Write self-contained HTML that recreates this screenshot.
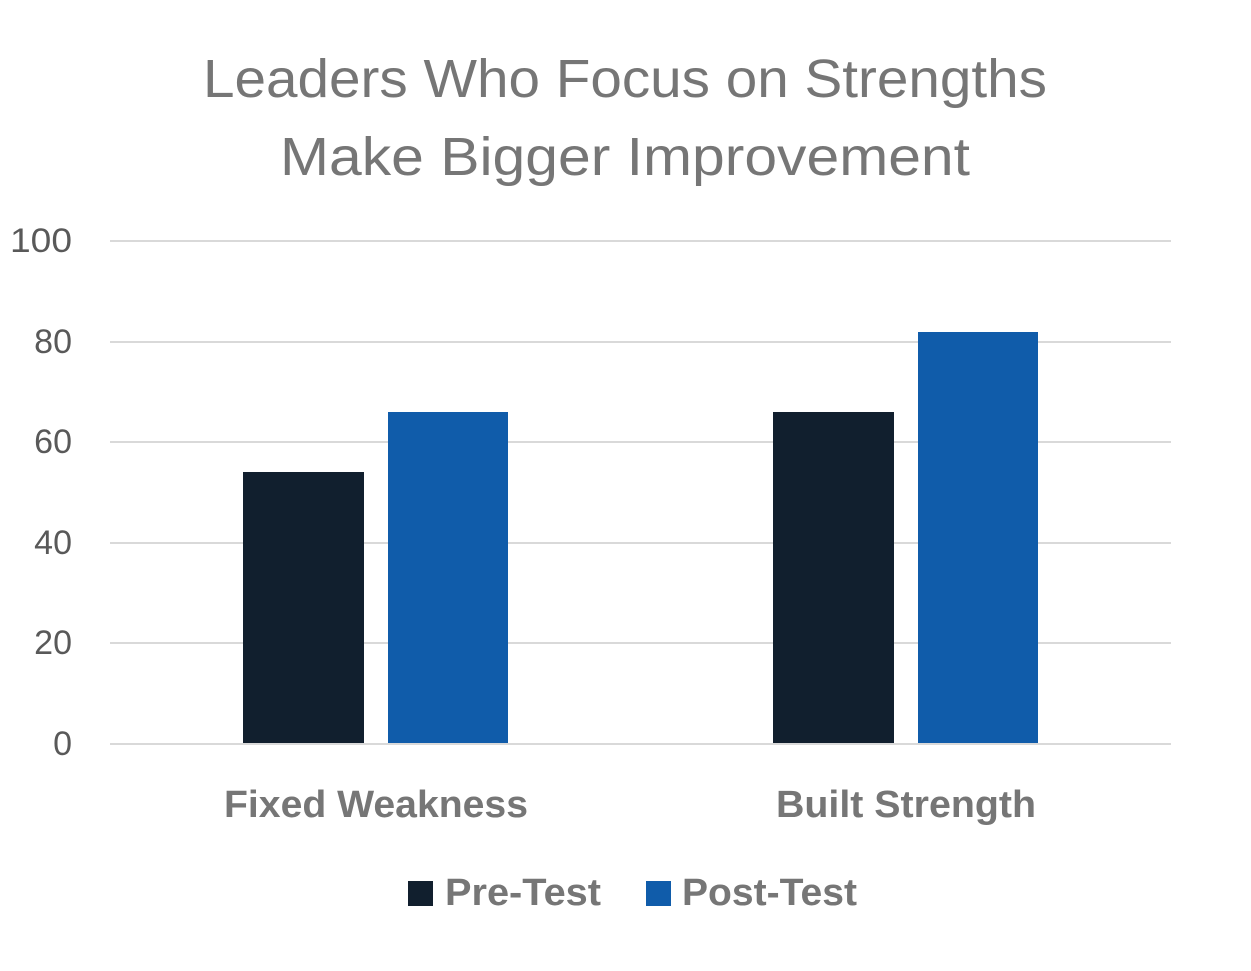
<!DOCTYPE html>
<html><head><meta charset="utf-8"><style>body{margin:0;background:#fff}svg{display:block}</style></head>
<body>
<svg width="1251" height="971" viewBox="0 0 1251 971" xmlns="http://www.w3.org/2000/svg" font-family="Liberation Sans, sans-serif">
<rect width="1251" height="971" fill="#fff"/>
<g fill="#767676" font-size="54">
<text x="203" y="97" textLength="844" lengthAdjust="spacingAndGlyphs">Leaders Who Focus on Strengths</text>
<text x="280" y="175" textLength="690" lengthAdjust="spacingAndGlyphs">Make Bigger Improvement</text>
</g>
<g stroke="#d9d9d9" stroke-width="2">
<line x1="110" x2="1171" y1="241" y2="241"/>
<line x1="110" x2="1171" y1="342" y2="342"/>
<line x1="110" x2="1171" y1="442" y2="442"/>
<line x1="110" x2="1171" y1="543" y2="543"/>
<line x1="110" x2="1171" y1="643" y2="643"/>
<line x1="110" x2="1171" y1="744" y2="744"/>
</g>
<g fill="#595959" font-size="34" text-anchor="end">
<text x="72" y="252" textLength="62" lengthAdjust="spacingAndGlyphs">100</text>
<text x="72" y="353">80</text>
<text x="72" y="453">60</text>
<text x="72" y="554">40</text>
<text x="72" y="654">20</text>
<text x="72" y="755">0</text>
</g>
<rect x="243" y="472" width="121" height="271" fill="#111f2e"/>
<rect x="388" y="412" width="120" height="331" fill="#105caa"/>
<rect x="773" y="412" width="121" height="331" fill="#111f2e"/>
<rect x="918" y="332" width="120" height="411" fill="#105caa"/>
<g fill="#767676" font-size="38" font-weight="bold">
<text x="224" y="817" textLength="304" lengthAdjust="spacingAndGlyphs">Fixed Weakness</text>
<text x="776" y="817" textLength="260" lengthAdjust="spacingAndGlyphs">Built Strength</text>
<text x="445" y="905" textLength="156" lengthAdjust="spacingAndGlyphs">Pre-Test</text>
<text x="682" y="905" textLength="175" lengthAdjust="spacingAndGlyphs">Post-Test</text>
</g>
<rect x="408" y="881" width="25" height="25" fill="#111f2e"/>
<rect x="646" y="881" width="25" height="25" fill="#105caa"/>
</svg>
</body></html>
